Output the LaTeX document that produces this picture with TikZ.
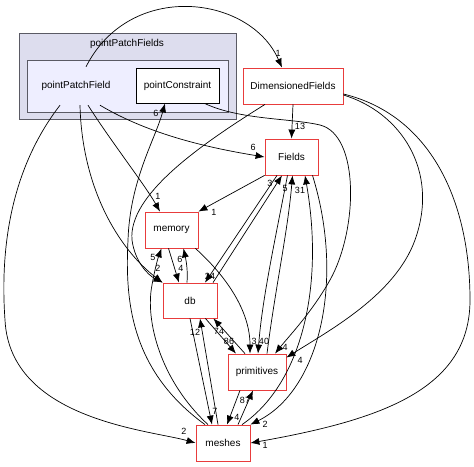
\documentclass[tikz,border=0pt]{standalone}
\usepackage{fontspec}
\setmainfont{Liberation Sans}
\usepackage{tikz}
\usetikzlibrary{positioning,calc,arrows.meta}

\definecolor{outerfill}{RGB}{221,221,238}
\definecolor{innerfill}{RGB}{238,238,255}
\definecolor{frame}{RGB}{90,90,100}
\definecolor{dirred}{RGB}{232,60,60}

\begin{document}
\begin{tikzpicture}[x=1pt,y=-1pt,font=\fontsize{10}{12}\selectfont]
        \tikzstyle{dir}=[rectangle, draw=dirred, line width=0.8pt, fill=white, inner sep=0pt, minimum height=36pt]
        \tikzstyle{dep}=[-{Latex[length=9pt,width=7pt]}, line width=0.7pt]
        \tikzstyle{num}=[inner sep=0pt, font=\fontsize{9}{10}\selectfont]

        \useasboundingbox (0,0) rectangle (474,466);

        \node[draw=frame, fill=outerfill, line width=0.8pt, minimum width=217pt, minimum height=86pt, inner sep=0pt] (o) at (127.5,76) {};
        \node[draw=frame, fill=innerfill, line width=0.8pt, minimum width=201pt, minimum height=52pt, inner sep=0pt] (i) at (127.5,86) {};
        \node (t) at (127,44) {pointPatchFields};
        \node[minimum width=96pt, minimum height=38pt, inner sep=0pt] (ppf) at (76,86) {pointPatchField};
        \node[dir, draw=black, minimum width=83pt, minimum height=35pt] (pc) at (177.5,85.5) {pointConstraint};
        \node[dir, minimum width=100pt] (dimf) at (293,86) {DimensionedFields};
        \node[dir, minimum width=53pt] (fields) at (291.5,157) {Fields};
        \node[dir, minimum width=53pt] (mem) at (171.5,230) {memory};
        \node[dir, minimum width=54pt, minimum height=35pt] (db) at (190,300.5) {db};
        \node[dir, minimum width=58pt] (prim) at (257,372) {primitives};
        \node[dir, minimum width=54pt] (mesh) at (223,443) {meshes};

        \draw[dep] ([xshift=10pt]ppf.north) .. controls (130,-20) and (250,-5) .. ([xshift=-11pt]dimf.north);
        \draw[dep] ([xshift=24pt]ppf.south) .. controls (150,135) and (210,148) .. (fields.west);
        \draw[dep] ([xshift=12pt]ppf.south) .. controls (110,140) and (145,185) .. ([xshift=-11.5pt]mem.north);
        \draw[dep] ([xshift=4pt]ppf.south) .. controls (82,190) and (120,250) .. (db.north west);
        \draw[dep] ([xshift=-16pt]ppf.south) .. controls (10,170) and (0,250) .. (5,320) .. controls (10,420) and (150,430) .. (mesh.west);
        \draw[dep] ([xshift=-18pt]mesh.north) .. controls (130,370) and (125,300) .. (128,240) .. controls (130,180) and (155,140) .. ([xshift=-12.5pt]pc.south);
        \draw[dep] ([xshift=27pt]pc.south) .. controls (240,120) and (290,118) .. (320,125) .. controls (360,135) and (358,230) .. (330,280) .. controls (312,312) and (290,335) .. ([xshift=18pt]prim.north);
        \draw[dep] ([yshift=-9pt]dimf.east) .. controls (400,112) and (440,170) .. (415,240) .. controls (395,295) and (330,330) .. ([yshift=-4pt]prim.north east);
        \draw[dep] ([yshift=-8pt]dimf.east) .. controls (430,115) and (470,200) .. (470,300) .. controls (470,390) and (380,420) .. (mesh.east);
        \draw[dep] (dimf.south) -- (fields.north);
        \draw[dep] ([xshift=-28pt]dimf.south) .. controls (200,145) and (128,195) .. (132,240) .. controls (135,262) and (148,275) .. (db.north west);
        \draw[dep] (fields.south west) -- (mem.north east);
        \draw[dep] ([xshift=-14.5pt]fields.south) -- ([xshift=15pt]db.north);
        \draw[dep] ([xshift=23pt]db.north) -- ([xshift=-9.5pt]fields.south);
        \draw[dep] ([xshift=-4pt]fields.south) .. controls (275,240) and (262,300) .. ([xshift=1pt]prim.north);
        \draw[dep] ([xshift=10pt]prim.north) .. controls (275,290) and (288,230) .. ([xshift=1pt]fields.south);
        \draw[dep] ([xshift=-3pt]mem.south east) .. controls (225,275) and (250,310) .. ([xshift=-7pt]prim.north);
        \draw[dep] ([xshift=19pt]mesh.north) .. controls (300,385) and (325,290) .. ([xshift=13.5pt]fields.south);
        \draw[dep] ([xshift=21pt]fields.south) .. controls (345,280) and (320,390) .. (mesh.north east);
        \draw[dep] ([xshift=-3pt]mem.south) -- ([xshift=-11pt]db.north);
        \draw[dep] ([xshift=-3pt]db.north) .. controls (188,270) and (186,260) .. ([xshift=12pt]mem.south);
        \draw[dep] ([xshift=-15pt]mesh.north) .. controls (160,380) and (145,320) .. (152,285) .. controls (155,268) and (158,258) .. ([xshift=-10pt]mem.south);
        \draw[dep] ([xshift=-12pt]db.south east) -- ([xshift=-21pt]prim.north);
        \draw[dep] ([xshift=-12pt]prim.north) -- ([xshift=-4pt]db.south east);
        \draw[dep] ([xshift=-5pt]mesh.north) -- ([xshift=10pt]db.south);
        \draw[dep] (db.south) -- ([xshift=-11pt]mesh.north);
        \draw[dep] ([xshift=-17pt]prim.south) -- ([xshift=4pt]mesh.north);
        \draw[dep] ([xshift=15pt]mesh.north) -- ([xshift=-4pt]prim.south);

        \node[num] (n1) at (278,53) {1};
        \node[num] (n2) at (253,147) {6};
        \node[num] (n3) at (158,196) {1};
        \node[num] (n4) at (158,268) {2};
        \node[num] (n5) at (184,431) {2};
        \node[num] (n6) at (156,113) {6};
        \node[num] (n7) at (285,347) {4};
        \node[num] (n8) at (300,360) {4};
        \node[num] (n9) at (265,445) {1};
        \node[num] (n10) at (300,126) {13};
        \node[num] (n11) at (214,212) {1};
        \node[num] (n12) at (210,276) {24};
        \node[num] (n13) at (270,183) {3};
        \node[num] (n14) at (285,188) {5};
        \node[num] (n15) at (264,341) {40};
        \node[num] (n16) at (254,341) {3};
        \node[num] (n17) at (300,190) {31};
        \node[num] (n18) at (265,424) {2};
        \node[num] (n19) at (181,268) {4};
        \node[num] (n20) at (180,259) {6};
        \node[num] (n21) at (153,257) {5};
        \node[num] (n22) at (229,341) {86};
        \node[num] (n23) at (219,331) {74};
        \node[num] (n24) at (195,332) {12};
        \node[num] (n25) at (215,411) {7};
        \node[num] (n26) at (237,417) {4};
        \node[num] (n27) at (245,400) {87};
\end{tikzpicture}
\end{document}
